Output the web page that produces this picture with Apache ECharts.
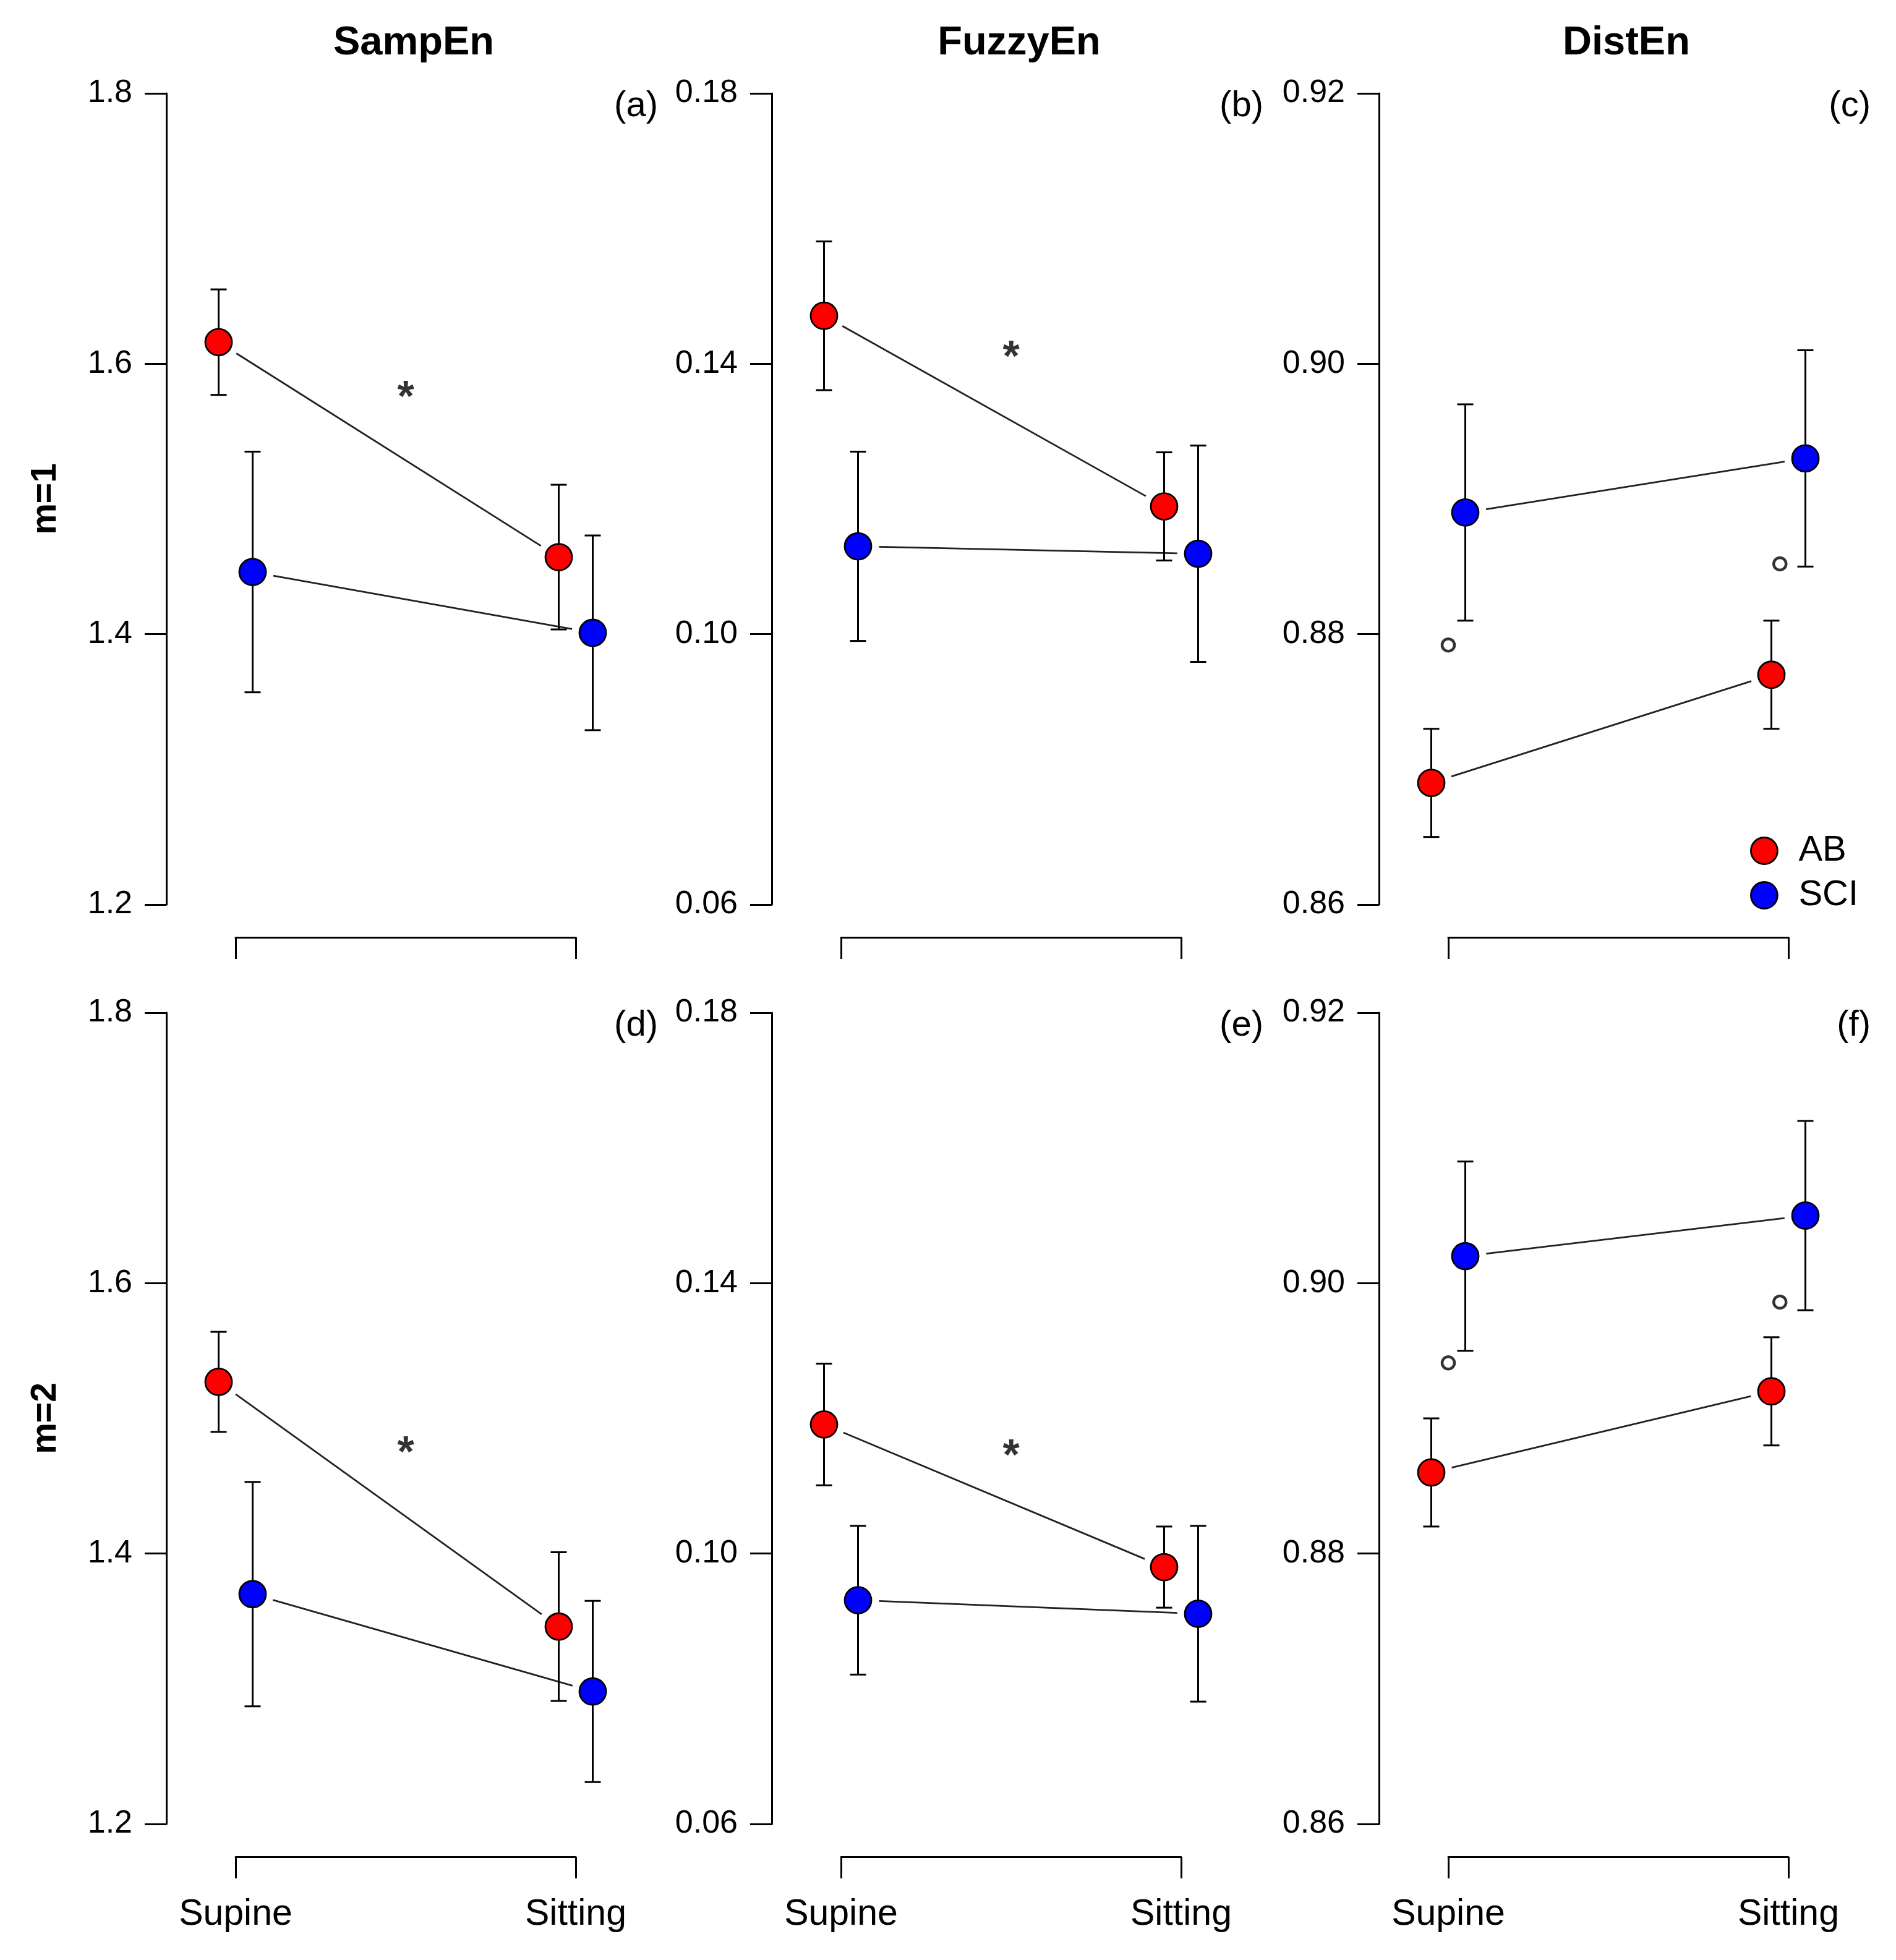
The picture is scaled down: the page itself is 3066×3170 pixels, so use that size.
<!DOCTYPE html>
<html>
<head>
<meta charset="utf-8">
<script src="https://cdn.jsdelivr.net/npm/echarts@6/dist/echarts.min.js"></script>
<style>
  html, body { margin: 0; padding: 0; background: #fff; }
  #main { width: 3066px; height: 3170px; }
</style>
</head>
<body>
<div id="main"></div>
<script>
// data: mean and error half-width, [Supine, Sitting]
var conditions = ['Supine', 'Sitting'];
var measures = ['SampEn', 'FuzzyEn', 'DistEn'];
var orders = ['m=1', 'm=2'];
var panelTags = ['(a)', '(b)', '(c)', '(d)', '(e)', '(f)'];

// y axis range per measure
var yMin = [1.2, 0.06, 0.86];
var yMax = [1.8, 0.18, 0.92];
var yStep = [0.2, 0.04, 0.02];
var yDecimals = [1, 2, 2];

// panels a..f
var abMean = [[1.616, 1.457], [0.1471, 0.1189], [0.8690, 0.8770],
              [1.527, 1.346], [0.1191, 0.0980], [0.8860, 0.8920]];
var abErr  = [[0.039, 0.0535], [0.011, 0.008], [0.004, 0.004],
              [0.037, 0.055], [0.009, 0.006], [0.004, 0.004]];
var sciMean = [[1.446, 1.401], [0.1130, 0.1119], [0.8890, 0.8930],
               [1.370, 1.298], [0.0931, 0.0911], [0.9020, 0.9050]];
var sciErr  = [[0.089, 0.072], [0.014, 0.016], [0.008, 0.008],
               [0.083, 0.067], [0.011, 0.013], [0.007, 0.007]];
// significance marks
var starY = [1.581, 0.1422, null, 1.4805, 0.1156, null];
var ringY = [null, null, [0.8792, 0.8852], null, null, [0.8941, 0.8986]];

// layout (px)
var FONT = "'Liberation Sans', Arial, Helvetica, sans-serif";
var axisX = [269, 1248, 2230];
var rowTop = [151, 1638];
var plotH = 1312;
var unit = 550;          // px per x unit
var pad = 112;           // px from axis to first category
var dodge = 0.05;
var xMin = 1 - pad / unit, xMax = 2 + pad / unit;
var bracketGap = 53;

var myChart = echarts.init(document.getElementById('main'));

var grids = [], xAxes = [], yAxes = [], series = [], graphics = [];

function tickValues(k) {
    var out = [];
    for (var v = yMin[k]; v <= yMax[k] + 1e-9; v += yStep[k]) {
        out.push(parseFloat(v.toFixed(4)));
    }
    return out;
}

function renderErr(params, api) {
    var x = api.value(0), lo = api.value(1), hi = api.value(2);
    var p1 = api.coord([x, hi]), p2 = api.coord([x, lo]);
    var c = 13;
    var st = { stroke: '#000', lineWidth: 3 };
    return {
        type: 'group',
        children: [
            { type: 'line', shape: { x1: p1[0], y1: p1[1], x2: p2[0], y2: p2[1] }, style: st },
            { type: 'line', shape: { x1: p1[0] - c, y1: p1[1], x2: p1[0] + c, y2: p1[1] }, style: st },
            { type: 'line', shape: { x1: p2[0] - c, y1: p2[1], x2: p2[0] + c, y2: p2[1] }, style: st }
        ]
    };
}

// line between the two means, stopping short of the points (like R type="b")
function renderLink(params, api) {
    var p1 = api.coord([api.value(0), api.value(1)]);
    var p2 = api.coord([api.value(2), api.value(3)]);
    var dx = p2[0] - p1[0], dy = p2[1] - p1[1];
    var len = Math.sqrt(dx * dx + dy * dy), g = 34;
    var ux = dx / len, uy = dy / len;
    return {
        type: 'line',
        shape: { x1: p1[0] + ux * g, y1: p1[1] + uy * g, x2: p2[0] - ux * g, y2: p2[1] - uy * g },
        style: { stroke: '#222', lineWidth: 2.8 }
    };
}

for (var r = 0; r < 2; r++) {
    for (var c = 0; c < 3; c++) {
        var i = r * 3 + c;
        var ticks = tickValues(c);
        // data panel
        grids.push({ left: axisX[c], top: rowTop[r], width: unit * (xMax - xMin), height: plotH });
        xAxes.push({ gridIndex: i, type: 'value', min: xMin, max: xMax, show: false });
        yAxes.push({
            gridIndex: i, type: 'value', min: yMin[c], max: yMax[c], interval: yStep[c],
            axisLine: { show: true, lineStyle: { color: '#000', width: 3 } },
            axisTick: { show: true, length: 35, customValues: ticks, lineStyle: { color: '#000', width: 3 } },
            axisLabel: {
                customValues: ticks, margin: 55, fontSize: 52, color: '#000', fontFamily: FONT,
                formatter: (function (d) { return function (v) { return Number(v).toFixed(d); }; })(yDecimals[c])
            },
            splitLine: { show: false }
        });

        var ab = abMean[i], abE = abErr[i], sc = sciMean[i], scE = sciErr[i];
        series.push({
            type: 'custom', xAxisIndex: i, yAxisIndex: i, z: 2, renderItem: renderLink, silent: true,
            encode: { x: [0, 2], y: [1, 3] },
            data: [[1 - dodge, ab[0], 2 - dodge, ab[1]], [1 + dodge, sc[0], 2 + dodge, sc[1]]]
        });
        series.push({
            type: 'custom', xAxisIndex: i, yAxisIndex: i, z: 3, renderItem: renderErr, silent: true,
            encode: { x: 0, y: [1, 2] },
            data: [
                [1 - dodge, ab[0] - abE[0], ab[0] + abE[0]],
                [2 - dodge, ab[1] - abE[1], ab[1] + abE[1]],
                [1 + dodge, sc[0] - scE[0], sc[0] + scE[0]],
                [2 + dodge, sc[1] - scE[1], sc[1] + scE[1]]
            ]
        });
        series.push({
            name: 'AB', type: 'scatter', xAxisIndex: i, yAxisIndex: i, z: 5, symbol: 'circle', symbolSize: 43,
            itemStyle: { color: '#ff0000', borderColor: '#000', borderWidth: 2.8, opacity: 1 },
            data: [[1 - dodge, ab[0]], [2 - dodge, ab[1]]]
        });
        series.push({
            name: 'SCI', type: 'scatter', xAxisIndex: i, yAxisIndex: i, z: 5, symbol: 'circle', symbolSize: 43,
            itemStyle: { color: '#0000ff', borderColor: '#000', borderWidth: 2.8, opacity: 1 },
            data: [[1 + dodge, sc[0]], [2 + dodge, sc[1]]]
        });
        if (starY[i] !== null) {
            series.push({
                type: 'scatter', xAxisIndex: i, yAxisIndex: i, z: 6, symbolSize: 1,
                itemStyle: { color: 'rgba(0,0,0,0)' },
                label: { show: true, position: 'inside', formatter: '*', fontSize: 70, fontWeight: 'bold',
                         color: '#000', fontFamily: FONT, offset: [0, 16] },
                data: [[1.5, starY[i]]]
            });
        }
        if (ringY[i] !== null) {
            series.push({
                type: 'scatter', xAxisIndex: i, yAxisIndex: i, z: 6, symbol: 'circle', symbolSize: 20,
                itemStyle: { color: '#fff', borderColor: '#000', borderWidth: 4.5 },
                data: [[1, ringY[i][0]], [1.975, ringY[i][1]]]
            });
        }

        graphics.push({
            type: 'text', x: axisX[c] + 795, y: rowTop[r] + 21,
            style: { text: panelTags[i], fontSize: 58, fontFamily: FONT, fill: '#000',
                     align: 'right', verticalAlign: 'middle' }
        });
    }
}

// x "bracket" axes under each panel, spanning Supine..Sitting only
for (var r2 = 0; r2 < 2; r2++) {
    for (var c2 = 0; c2 < 3; c2++) {
        var g = 6 + r2 * 3 + c2;
        grids.push({ left: axisX[c2] + pad, top: rowTop[r2] + plotH + bracketGap - 1, width: unit, height: 1 });
        xAxes.push({
            gridIndex: g, type: 'value', min: 1, max: 2, position: 'bottom',
            axisLine: { show: true, onZero: false, lineStyle: { color: '#000', width: 3 } },
            axisTick: { show: true, length: 35, customValues: [1, 2], lineStyle: { color: '#000', width: 3 } },
            axisLabel: {
                show: r2 === 1, customValues: [1, 2], margin: 64, fontSize: 59, color: '#000', fontFamily: FONT,
                formatter: function (v) { return conditions[Math.round(v) - 1]; }
            },
            splitLine: { show: false }
        });
        yAxes.push({ gridIndex: g, type: 'value', show: false });
    }
}

// column titles and row labels
for (var k = 0; k < 3; k++) {
    graphics.push({
        type: 'text', x: axisX[k] + 400, y: 70,
        style: { text: measures[k], fontSize: 65, fontWeight: 'bold', fontFamily: FONT, fill: '#000',
                 align: 'center', verticalAlign: 'middle' }
    });
}
for (var m = 0; m < 2; m++) {
    graphics.push({
        type: 'text', x: 74, y: rowTop[m] + plotH / 2, rotation: Math.PI / 2,
        style: { text: orders[m], fontSize: 57, fontWeight: 'bold', fontFamily: FONT, fill: '#000',
                 align: 'center', verticalAlign: 'middle' }
    });
}

var option = {
    backgroundColor: '#fff',
    animation: false,
    grid: grids,
    xAxis: xAxes,
    yAxis: yAxes,
    legend: {
        data: ['AB', 'SCI'], orient: 'vertical', left: 2830, top: 1347, padding: 0,
        itemWidth: 43, itemHeight: 43, itemGap: 14, icon: 'circle',
        itemStyle: { borderColor: '#000', borderWidth: 2.8 },
        textStyle: { fontSize: 58, lineHeight: 58, color: '#000', fontFamily: FONT, padding: [0, 0, 0, 29] }
    },
    graphic: graphics,
    series: series
};

myChart.setOption(option);
</script>
</body>
</html>
